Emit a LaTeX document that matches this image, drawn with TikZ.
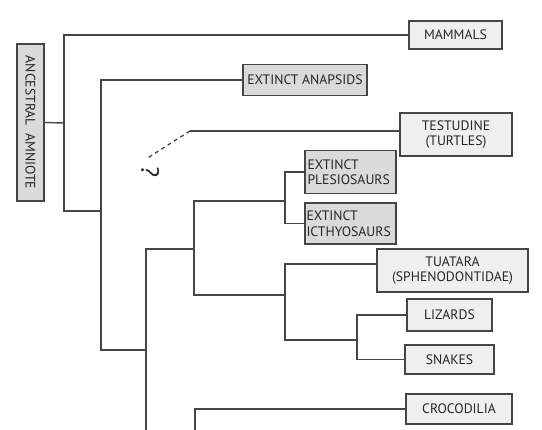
\documentclass[tikz,border=0pt]{standalone}
\usepackage{fontspec}
\setmainfont{PT Sans}
\definecolor{lineC}{HTML}{454545}
\definecolor{darkF}{HTML}{DADADA}
\definecolor{lightF}{HTML}{EFEFEF}
\begin{document}
\begin{tikzpicture}[x=1pt,y=-1pt,
  box/.style={draw=lineC,line width=1.5pt,inner sep=0pt,font=\fontsize{13.7}{15.5}\selectfont,text=black!85},
  dbox/.style={box,fill=darkF},
  lbox/.style={box,fill=lightF},
  conn/.style={draw=lineC,line width=1.4pt}]
\useasboundingbox (0,0) rectangle (542,430);
% boxes
\node[dbox,rotate=-90,minimum width=157,minimum height=27] (anc) at (30.5,122.5) {ANCESTRAL\ \ AMNIOTE};
\node[lbox,minimum width=93,minimum height=28] (mam) at (455.5,35) {MAMMALS};
\node[dbox,minimum width=124,minimum height=31] (anap) at (305,80) {EXTINCT ANAPSIDS};
\node[lbox,minimum width=112,minimum height=43,align=center] (tes) at (456,134.5) {TESTUDINE\\(TURTLES)};
\node[dbox,minimum width=91,minimum height=43,align=left,text width=86] (ple) at (350.5,172) {EXTINCT\\PLESIOSAURS};
\node[dbox,minimum width=91,minimum height=41,align=left,text width=88] (ich) at (350.5,223.5) {EXTINCT\\ICTHYOSAURS};
\node[lbox,minimum width=151,minimum height=43,align=center] (tua) at (452.5,270.5) {TUATARA\\(SPHENODONTIDAE)};
\node[lbox,minimum width=85,minimum height=32] (liz) at (449.5,315) {LIZARDS};
\node[lbox,minimum width=89,minimum height=29] (sna) at (449.5,359.5) {SNAKES};
\node[lbox,minimum width=106,minimum height=30] (cro) at (459,409) {CROCODILIA};
% junctions
\coordinate (a1) at (64,123);
\coordinate (a2) at (101,211);
\coordinate (a3) at (146,350);
\coordinate (a4) at (194,249);
\coordinate (a5) at (285,201);
\coordinate (a6) at (285,295);
\coordinate (a7) at (357,340);
\coordinate (b1) at (146,434);
\coordinate (b2) at (195,434);
\coordinate (t0) at (190,131);
\coordinate (t1) at (146,159);
% connectors
\draw[conn] (anc.north) -- (a1);
\draw[conn] (mam.west) -| (a1) |- (a2);
\draw[conn] (anap.west) -| (a2) |- (a3);
\draw[conn] (a4) -| (a3) -- (b1);
\draw[conn] (a5) -| (a4) |- (a6);
\draw[conn] (ple.west) -| (a5) |- (ich.west);
\draw[conn] ([yshift=6.5pt]tua.west) -| (a6) |- (a7);
\draw[conn] (liz.west) -| (a7) |- (sna.west);
\draw[conn] (cro.west) -| (b2);
\draw[conn] (tes.west |- t0) -- (t0);
\draw[conn,dash pattern=on 4pt off 3.5pt,line width=1.3pt] (t0) -- (t1);
\node[rotate=-95,font=\fontsize{25}{27}\selectfont,text=black!85,inner sep=0pt] (q) at (150,172) {?};
\end{tikzpicture}
\end{document}
